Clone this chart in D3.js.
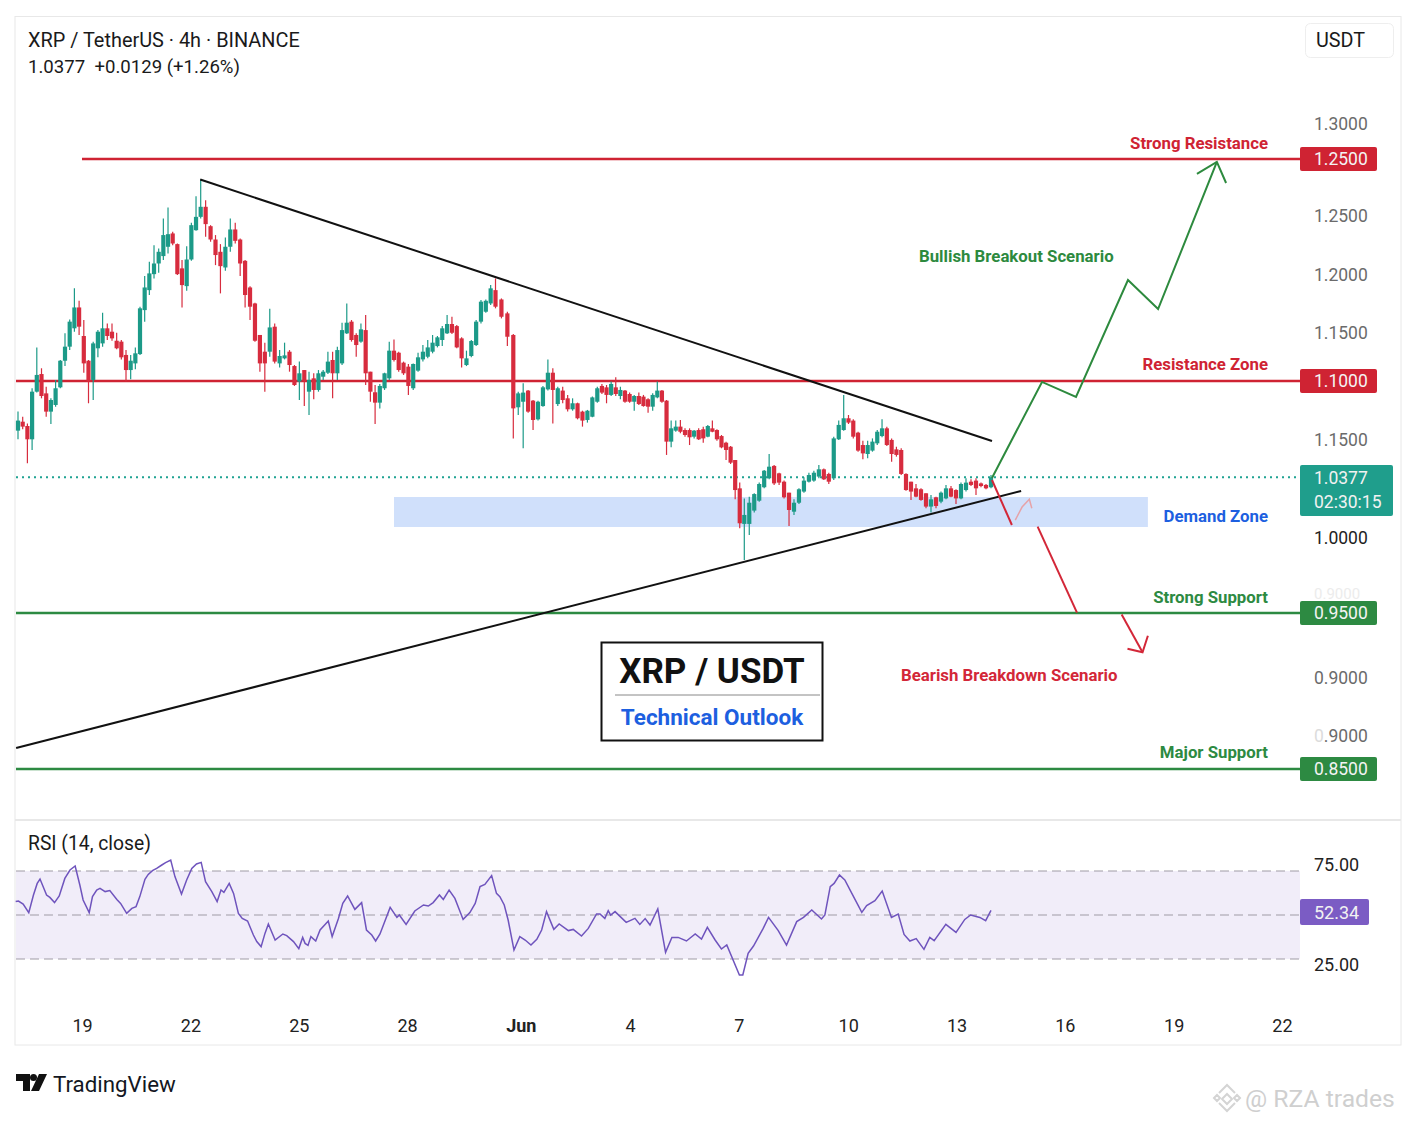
<!DOCTYPE html>
<html lang="en">
<head>
<meta charset="UTF-8">
<title>XRP / USDT Technical Outlook</title>
<style>
    html, body { margin: 0; padding: 0; background: #fff; }
    svg { display: block; font-family: Roboto, sans-serif; }
    .axis path, .axis line { display: none; }
</style>
<script src="https://cdn.jsdelivr.net/npm/d3@7"></script>
</head>
<body>
<script>
// 4h candles
var opens = [1.0679,1.0737,1.0709,1.0623,1.0931,1.1047,1.0920,1.0802,1.0845,1.0959,
1.1137,1.1232,1.1356,1.1497,1.1304,1.1137,1.1007,1.1221,1.1254,1.1356,
1.1333,1.1272,1.1266,1.1176,1.1074,1.1119,1.1182,1.1479,1.1614,1.1722,
1.1794,1.1844,1.1907,1.1997,1.1925,1.1761,1.1641,1.1821,1.2019,1.2109,
1.2177,1.2046,1.1956,1.1873,1.1767,1.1907,1.2024,1.1956,1.1812,1.1632,
1.1524,1.1311,1.1198,1.1198,1.1367,1.1119,1.1153,1.1198,1.1101,1.0996,
1.1074,1.0931,1.1018,1.0942,1.1029,1.1056,1.1142,1.1052,1.1119,1.1322,
1.1401,1.1311,1.1266,1.1344,1.1063,1.0927,1.0860,1.0953,1.1018,1.1205,
1.1191,1.1124,1.1097,1.0953,1.1070,1.1146,1.1164,1.1198,1.1236,1.1277,
1.1322,1.1385,1.1371,1.1288,1.1108,1.1169,1.1243,1.1401,1.1468,1.1524,
1.1614,1.1551,1.1457,1.1311,1.0830,1.0866,1.0938,1.0873,1.0752,1.0838,
1.0946,1.1056,1.0851,1.0938,1.0888,1.0817,1.0856,1.0802,1.0748,1.0769,
1.0866,1.0968,1.0959,1.0910,1.0959,1.0903,1.0938,1.0916,1.0866,1.0903,
1.0899,1.0882,1.0834,1.0894,1.0938,1.0873,1.0608,1.0679,1.0705,1.0683,
1.0683,1.0640,1.0683,1.0688,1.0640,1.0694,1.0683,1.0644,1.0601,1.0575,
1.0489,1.0306,1.0076,1.0076,1.0162,1.0226,1.0313,1.0371,1.0451,1.0403,
1.0349,1.0278,1.0155,1.0213,1.0285,1.0349,1.0356,1.0382,1.0429,1.0399,
1.0371,1.0623,1.0683,1.0759,1.0744,1.0666,1.0586,1.0528,1.0550,1.0597,
1.0644,1.0694,1.0619,1.0558,1.0554,1.0399,1.0349,1.0306,1.0300,1.0274,
1.0188,1.0248,1.0220,1.0241,1.0306,1.0295,1.0241,1.0295,1.0349,1.0356,
1.0338,1.0328,1.0313];
var highs = [1.0802,1.0769,1.0726,1.0953,1.1227,1.1086,1.0963,1.0888,1.1007,1.1142,
1.1322,1.1416,1.1626,1.1542,1.1412,1.1142,1.1266,1.1344,1.1461,1.1389,
1.1389,1.1326,1.1277,1.1209,1.1176,1.1227,1.1502,1.1709,1.1806,1.1918,
1.1896,1.2098,1.2172,1.2008,1.1929,1.1817,1.1911,1.2069,1.2249,1.2361,
1.2222,1.2053,1.1986,1.1925,1.1970,1.2098,1.2069,1.1963,1.1817,1.1641,
1.1529,1.1311,1.1259,1.1488,1.1389,1.1209,1.1259,1.1209,1.1108,1.1131,
1.1074,1.1063,1.1052,1.1074,1.1074,1.1198,1.1198,1.1232,1.1394,1.1524,
1.1412,1.1322,1.1389,1.1446,1.1063,1.0974,1.0981,1.1056,1.1266,1.1281,
1.1198,1.1131,1.1115,1.1119,1.1191,1.1243,1.1277,1.1311,1.1304,1.1371,
1.1446,1.1434,1.1378,1.1295,1.1205,1.1277,1.1412,1.1547,1.1551,1.1648,
1.1693,1.1558,1.1468,1.1317,1.0931,1.0985,1.0942,1.0877,1.0873,1.0968,
1.1146,1.1086,1.0963,1.0963,1.0910,1.0888,1.0860,1.0808,1.0813,1.0899,
1.0963,1.0981,1.0974,1.0996,1.1025,1.0963,1.0942,1.0925,1.0910,1.0925,
1.0910,1.0888,1.0920,1.0996,1.0942,1.0877,1.0744,1.0744,1.0748,1.0694,
1.0694,1.0683,1.0694,1.0705,1.0716,1.0744,1.0688,1.0651,1.0608,1.0580,
1.0489,1.0343,1.0241,1.0252,1.0274,1.0343,1.0425,1.0528,1.0457,1.0407,
1.0356,1.0278,1.0235,1.0306,1.0377,1.0407,1.0420,1.0457,1.0435,1.0407,
1.0640,1.0744,1.0910,1.0780,1.0752,1.0672,1.0614,1.0614,1.0629,1.0683,
1.0752,1.0705,1.0629,1.0575,1.0565,1.0403,1.0349,1.0334,1.0306,1.0274,
1.0263,1.0252,1.0285,1.0328,1.0321,1.0300,1.0343,1.0371,1.0364,1.0371,
1.0343,1.0334,1.0392];
var lows = [1.0623,1.0688,1.0468,1.0554,1.0925,1.0888,1.0769,1.0722,1.0834,1.0953,
1.1101,1.1209,1.1333,1.1311,1.1056,1.0856,1.0877,1.1160,1.1232,1.1277,
1.1272,1.1214,1.1146,1.0996,1.1011,1.1079,1.1176,1.1401,1.1581,1.1693,
1.1731,1.1817,1.1862,1.1918,1.1716,1.1497,1.1610,1.1812,1.2015,1.2098,
1.1974,1.1941,1.1783,1.1592,1.1745,1.1873,1.1929,1.1709,1.1497,1.1412,
1.1266,1.1063,1.0931,1.1164,1.1119,1.1092,1.1146,1.1063,1.0968,1.0877,
1.0838,1.0780,1.0882,1.0931,1.1007,1.1047,1.0888,1.1007,1.1108,1.1317,
1.1266,1.1164,1.1259,1.0974,1.0866,1.0722,1.0823,1.0942,1.1007,1.1131,
1.1063,1.1041,1.0910,1.0942,1.1063,1.1131,1.1153,1.1187,1.1227,1.1236,
1.1317,1.1317,1.1221,1.1092,1.1101,1.1160,1.1236,1.1389,1.1461,1.1513,
1.1491,1.1423,1.1236,1.0629,1.0780,1.0565,1.0795,1.0683,1.0744,1.0834,
1.0938,1.0726,1.0838,1.0856,1.0802,1.0808,1.0752,1.0705,1.0731,1.0765,
1.0860,1.0916,1.0856,1.0903,1.0903,1.0882,1.0860,1.0860,1.0808,1.0845,
1.0834,1.0795,1.0808,1.0888,1.0860,1.0522,1.0571,1.0672,1.0662,1.0640,
1.0586,1.0629,1.0619,1.0601,1.0636,1.0668,1.0614,1.0565,1.0489,1.0463,
1.0235,1.0048,0.9843,1.0004,1.0149,1.0220,1.0306,1.0364,1.0328,1.0328,
1.0241,1.0063,1.0134,1.0205,1.0278,1.0343,1.0349,1.0371,1.0360,1.0334,
1.0360,1.0619,1.0679,1.0722,1.0629,1.0543,1.0494,1.0500,1.0543,1.0586,
1.0636,1.0580,1.0478,1.0511,1.0392,1.0291,1.0231,1.0248,1.0226,1.0177,
1.0149,1.0177,1.0209,1.0235,1.0248,1.0205,1.0235,1.0285,1.0321,1.0263,
1.0313,1.0300,1.0306];
var closes = [1.0744,1.0705,1.0623,1.0931,1.1041,1.0903,1.0802,1.0877,1.0953,1.1137,
1.1232,1.1401,1.1497,1.1367,1.1119,1.0996,1.1254,1.1333,1.1356,1.1304,
1.1288,1.1221,1.1160,1.1074,1.1137,1.1187,1.1491,1.1632,1.1727,1.1794,
1.1873,1.1986,1.1992,1.1929,1.1722,1.1648,1.1821,1.2053,1.2109,1.2177,
1.2060,1.1956,1.1851,1.1776,1.1907,1.2024,1.1947,1.1794,1.1581,1.1502,
1.1272,1.1119,1.1119,1.1362,1.1131,1.1169,1.1173,1.1108,1.0974,1.1052,
1.0996,1.1007,1.0942,1.1052,1.1063,1.1131,1.1052,1.1209,1.1344,1.1394,
1.1277,1.1243,1.1349,1.1052,1.0931,1.0860,1.0968,1.1052,1.1205,1.1142,
1.1074,1.1052,1.0968,1.1115,1.1160,1.1198,1.1227,1.1259,1.1295,1.1356,
1.1385,1.1326,1.1227,1.1153,1.1153,1.1270,1.1401,1.1536,1.1542,1.1626,
1.1502,1.1434,1.1299,1.0823,1.0920,1.0925,1.0802,1.0748,1.0866,1.0959,
1.1056,1.0942,1.0953,1.0877,1.0817,1.0856,1.0759,1.0744,1.0808,1.0894,
1.0953,1.0925,1.0910,1.0981,1.0916,1.0942,1.0866,1.0866,1.0903,1.0851,
1.0838,1.0834,1.0910,1.0938,1.0866,1.0608,1.0694,1.0705,1.0672,1.0651,
1.0636,1.0679,1.0623,1.0629,1.0709,1.0672,1.0623,1.0571,1.0554,1.0472,
1.0295,1.0080,1.0134,1.0213,1.0269,1.0334,1.0420,1.0446,1.0338,1.0343,
1.0248,1.0166,1.0213,1.0300,1.0356,1.0392,1.0407,1.0429,1.0364,1.0349,
1.0629,1.0716,1.0759,1.0731,1.0640,1.0550,1.0532,1.0586,1.0608,1.0672,
1.0694,1.0586,1.0528,1.0522,1.0399,1.0295,1.0285,1.0252,1.0231,1.0188,
1.0235,1.0192,1.0278,1.0306,1.0252,1.0241,1.0334,1.0343,1.0328,1.0306,
1.0321,1.0306,1.0377];

// RSI: turning points of the line, at fractional candle positions
var rsiIndex = [-0.5,0.1,1.1,2.3,3.3,4.1,4.7,6.1,6.8,7.8,8.8,10,11.1,12.2,13.2,13.9,15.2,15.9,16.8,17.5,18.6,19.6,21.1,21.9,23.2,24.3,25.2,26,27.1,27.8,28.7,29.6,30.7,31.5,32.6,33.5,34.9,36,37.1,38.1,39.1,40,41.3,42.4,43.2,43.8,44.9,45.8,46.8,47.6,48.7,49.9,50.6,51.5,52.3,53,54.4,56,56.8,58.2,59.3,60.1,60.6,61.2,61.8,62.8,63.7,65.4,66.2,67.5,68.4,69.4,70.9,72.3,73.3,74.4,75.2,76.1,78.2,79.6,80.1,81.5,83.3,85.1,86.1,87.1,88.4,89.2,90.4,91.6,93.3,94.7,95.8,96.8,97.8,99.2,100.2,100.9,101.8,102.6,103.8,105,106.1,107.3,108.5,109.5,110.5,112,113.1,115,116,117.7,119.1,120.8,121.5,122.5,123.2,123.7,124.6,126.9,128.7,129.7,130.8,131.8,133.4,135,136.3,137.6,139.3,141.1,142.4,143.6,145.2,146.5,147.6,150.2,150.9,152,153.1,155.1,156.2,158.2,159.9,162,163.4,165.1,167.1,167.8,168.9,169.7,170.8,171.9,173.7,175.4,176.4,178.1,179.6,181.5,182.9,184.1,185.3,186.6,188.2,189.4,190.3,192.7,194.8,196.6,197.8,199.7,200.9,202];
var rsiValues = [56.7,57,55.5,51.2,60,65.8,68,60,58.8,56.2,59.5,68.3,72.5,74.5,65,57.5,51.2,59.2,62.5,63.3,61.7,62.2,57.8,55.8,50.8,53.3,54.2,59.2,67.8,70.3,72.2,73.3,75,76.2,77.5,69.2,60.5,67.5,73.3,75.5,76.3,66.7,61.7,56.7,62.5,61.3,65.8,60.8,50.8,48.3,47,40,36.7,34.2,40.8,45.5,37.5,40.5,39.7,36.7,33.2,38.8,35.8,34.8,39.2,37,42.5,47,39.2,48.3,55.8,59.5,52.8,56.2,42.5,40,37,40.5,53.8,48.8,50,45.3,52,55,54.5,56.2,60,57.8,62.5,58.3,47.8,51.2,55.8,64.2,65.3,69.7,60.8,59.2,55,47.5,32.5,39.2,37.5,35,37.8,42.5,51.7,42.8,45.5,42.2,42.8,39.5,43.3,50.5,50.5,48.3,52.2,50,51.7,46.3,48.3,45.3,48.2,45,53,31.3,38.8,38.8,37,40.5,38,43.8,37.5,33,35,20,20,30.8,34.5,43.3,48.8,42.2,35,46.7,48.8,52.5,48,50,64.2,65.8,70,67.5,59.2,51.3,54.7,57.2,62,48.8,50.5,40.3,37,38.2,32.8,38.8,37.2,45.3,41.3,47.8,50,48.8,47.2,52.34];
var rsiBands = [72, 50, 28];
var rsiTicks = [75, 25];

// axis labels, the picture prints some of them twice at odd heights
var dayTickIndex = [13.66,36.8,59.3,81.7,105.2,127.7,150.1,172.6,194.9,217.2,239.6,261.9];
var dayTickLabels = ["19","22","25","28","Jun","4","7","10","13","16","19","22"];
var priceTickAt = [1.2737,1.2115,1.1716,1.1324,1.0618,0.9985,0.9083,0.8711];
var priceTickLabels = ["1.3000","1.2500","1.2000","1.1500","1.1500","1.0000","0.9000","0.9000"];

// horizontal levels
var levelPrices = [1.25, 1.10, 0.95, 0.85];
var levelNames = ["Strong Resistance", "Resistance Zone", "Strong Support", "Major Support"];
var levelColors = ["#cf2333", "#cf2333", "#2d8a42", "#2d8a42"];
var lastPrice = 1.0377;
var lastRsi = 52.34;
var demandZone = {i0: 79, i1: 234.3, top: 1.0250, bottom: 1.0056};

// drawn lines, as candle position and price
var upperTrendIdx = [38.9, 202.2], upperTrendPrice = [1.2361, 1.0612];
var lowerTrendIdx = [-0.4, 208.2], lowerTrendPrice = [0.8635, 1.0289];
var bullIdx = [202.2, 212.5, 219.5, 230.2, 236.4, 248.5];
var bullPrice = [1.0373, 1.0994, 1.0897, 1.1682, 1.1486, 1.2480];
var bullHeadIdx = [244.4, 248.5, 250.4], bullHeadPrice = [1.2399, 1.2480, 1.2338];
var bearIdx = [[202.2, 206.3], [211.6, 219.7], [228.9, 233.2]];
var bearPrice = [[1.0360, 1.0069], [1.0058, 0.9502], [0.9490, 0.9248]];
var bearHeadIdx = [230.1, 233.2, 234.3], bearHeadPrice = [0.9271, 0.9248, 0.9354];
var bearFadeIdx = [207, 208.4, 209.9, 210.4], bearFadePrice = [1.0101, 1.0185, 1.0235, 1.0177];

var width = 1402, height = 1122;
var plotLeft = 16, plotRight = 1300;

var svg = d3.select("body").append("svg").attr("width", width).attr("height", height);

// scales, bent a little because the picture's axes are not even
var x = d3.scaleLinear().domain([0, 39, 100, 139, 202]).range([18, 200.7, 495.5, 685, 991]);
var xCandle = d3.scaleLinear()
    .domain([0, 20, 39, 60, 80, 100, 103, 120, 139, 152, 172, 185, 202])
    .range([18, 112, 200.7, 304.3, 398.7, 495.5, 513.3, 597.3, 685, 744.3, 843.7, 906, 991]);
var y = d3.scaleLinear().domain([1.25, 1.10, 0.95, 0.85]).range([159, 381, 613, 769]);
var yRsi = d3.scaleLinear().domain([75, 25]).range([865, 965]);

var line = d3.line().x(d => x(d[0])).y(d => y(d[1]));
function pts(a, b) { return a.map((v, i) => [v, b[i]]); }

// frame
var frameColor = "#e8e8e8";
svg.append("rect").attr("x", 15).attr("y", 16.5).attr("width", 1386).attr("height", 1028.5)
    .attr("fill", "none").attr("stroke", frameColor).attr("stroke-width", 1);
svg.append("line").attr("x1", 15).attr("x2", 1401).attr("y1", 820).attr("y2", 820)
    .attr("stroke", frameColor).attr("stroke-width", 2);

// demand zone goes under the candles
svg.append("rect")
    .attr("x", x(demandZone.i0)).attr("width", x(demandZone.i1) - x(demandZone.i0))
    .attr("y", y(demandZone.top)).attr("height", y(demandZone.bottom) - y(demandZone.top))
    .attr("fill", "#d0e0fb");

// levels
levelPrices.forEach(function(p, i) {
    svg.append("line")
        .attr("x1", i == 0 ? x(dayTickIndex[0]) : plotLeft).attr("x2", plotRight)
        .attr("y1", y(p)).attr("y2", y(p))
        .attr("stroke", levelColors[i]).attr("stroke-width", 2.4);
});

// last price line
svg.append("line").attr("x1", plotLeft).attr("x2", plotRight)
    .attr("y1", y(lastPrice)).attr("y2", y(lastPrice))
    .attr("stroke", "#1fa392").attr("stroke-width", 2).attr("stroke-dasharray", "2 4");

// candles
var up = "#1c9a88", down = "#d72c3e";
var candles = svg.append("g");
opens.forEach(function(o, i) {
    var c = closes[i];
    var col = c >= o ? up : down;
    candles.append("line")
        .attr("x1", xCandle(i)).attr("x2", xCandle(i))
        .attr("y1", y(highs[i])).attr("y2", y(lows[i]))
        .attr("stroke", col).attr("stroke-width", 1.2);
    candles.append("rect")
        .attr("x", xCandle(i) - 2.1).attr("width", 4.2)
        .attr("y", y(Math.max(o, c))).attr("height", Math.max(1, Math.abs(y(o) - y(c))))
        .attr("fill", col);
});

// trend lines
[[upperTrendIdx, upperTrendPrice], [lowerTrendIdx, lowerTrendPrice]].forEach(function(t) {
    svg.append("path").attr("d", line(pts(t[0], t[1])))
        .attr("fill", "none").attr("stroke", "#111").attr("stroke-width", 2);
});

// scenarios
var bullColor = "#2d8a3e", bearColor = "#d32738";
svg.append("path").attr("d", line(pts(bullIdx, bullPrice)))
    .attr("fill", "none").attr("stroke", bullColor).attr("stroke-width", 2).attr("stroke-linejoin", "miter");
svg.append("path").attr("d", line(pts(bullHeadIdx, bullHeadPrice)))
    .attr("fill", "none").attr("stroke", bullColor).attr("stroke-width", 2);
bearIdx.forEach(function(seg, i) {
    svg.append("path").attr("d", line(pts(seg, bearPrice[i])))
        .attr("fill", "none").attr("stroke", bearColor).attr("stroke-width", 2);
});
svg.append("path").attr("d", line(pts(bearHeadIdx, bearHeadPrice)))
    .attr("fill", "none").attr("stroke", bearColor).attr("stroke-width", 2);
svg.append("path").attr("d", line(pts(bearFadeIdx, bearFadePrice)))
    .attr("fill", "none").attr("stroke", "#e6a3a8").attr("stroke-width", 1.5);

// text on the chart
function label(txt, px, py, size, color, anchor, weight) {
    return svg.append("text").attr("x", px).attr("y", py)
        .attr("font-size", size).attr("fill", color)
        .attr("text-anchor", anchor || "start").attr("font-weight", weight || 400)
        .attr("dominant-baseline", "central").text(txt);
}
var blue = "#1d5fe0";
label(levelNames[0], 1268, 143, 16.8, levelColors[0], "end", 700);
label(levelNames[1], 1268, 364, 16.8, levelColors[1], "end", 700);
label(levelNames[2], 1268, 597, 16.8, levelColors[2], "end", 700);
label(levelNames[3], 1268, 752, 16.8, levelColors[3], "end", 700);
label("Demand Zone", 1268, 516, 16.8, blue, "end", 700);
label("Bullish Breakout Scenario", 919, 256, 16.8, bullColor, "start", 700);
label("Bearish Breakdown Scenario", 901, 675, 16.8, bearColor, "start", 700);

// title box
svg.append("rect").attr("x", 601.5).attr("y", 642.5).attr("width", 221).attr("height", 98)
    .attr("fill", "#fff").attr("stroke", "#111").attr("stroke-width", 2);
label("XRP / USDT", 712, 671, 35, "#111", "middle", 700);
svg.append("line").attr("x1", 615).attr("x2", 820).attr("y1", 695).attr("y2", 695)
    .attr("stroke", "#888").attr("stroke-width", 1);
label("Technical Outlook", 712, 717, 22.5, blue, "middle", 700);

// header
label("XRP / TetherUS \u00b7 4h \u00b7 BINANCE", 28, 40, 19.9, "#1a1a1a");
label("1.0377  +0.0129 (+1.26%)", 28, 67, 18.6, "#1a1a1a").style("white-space", "pre");
svg.append("rect").attr("x", 1305.5).attr("y", 23.5).attr("width", 88).attr("height", 34).attr("rx", 5)
    .attr("fill", "#fff").attr("stroke", "#eeeeee");
label("USDT", 1316, 40, 19.8, "#1a1a1a");

// price axis
var priceAxis = svg.append("g").attr("class", "axis").attr("transform", "translate(1314,0)")
    .call(d3.axisRight(y).tickValues(priceTickAt).tickSize(0).tickPadding(0)
        .tickFormat((d, i) => priceTickLabels[i]));
priceAxis.selectAll("text").attr("font-size", 17.5).attr("font-family", "Roboto, sans-serif")
    .attr("fill", (d, i) => i == 5 ? "#222" : "#6b6b6b");
// the last tick's first digit has nearly gone in the picture
var fadedTick = priceAxis.selectAll("text").filter((d, i) => i == priceTickLabels.length - 1);
var fadedText = fadedTick.text();
fadedTick.text("");
fadedTick.append("tspan").attr("fill", "#dcdcdc").text(fadedText.slice(0, 1));
fadedTick.append("tspan").text(fadedText.slice(1));
// ghost label half hidden behind the 0.9500 tag
label("0.9000", 1314, 594, 15, "#ececec");

// price tags
var tagHeight = 24;
levelPrices.forEach(function(p, i) {
    svg.append("rect").attr("x", plotRight).attr("width", 77).attr("y", y(p) - tagHeight / 2).attr("height", tagHeight)
        .attr("rx", 2).attr("fill", levelColors[i]);
    label(p.toFixed(4), 1314, y(p), 17.5, "#f4f4f4");
});
svg.append("rect").attr("x", plotRight).attr("width", 93).attr("y", 465).attr("height", 51).attr("rx", 2).attr("fill", "#1f9e8c");
label(lastPrice.toFixed(4), 1314, 478, 17.5, "#f2f2f2");
label("02:30:15", 1314, 502, 17.5, "#f2f2f2");

// RSI panel
label("RSI (14, close)", 28, 843, 19.3, "#1a1a1a");
svg.append("rect").attr("x", plotLeft).attr("width", plotRight - plotLeft)
    .attr("y", yRsi(rsiBands[0])).attr("height", yRsi(rsiBands[2]) - yRsi(rsiBands[0]))
    .attr("fill", "#f1edf9");
rsiBands.forEach(function(b) {
    svg.append("line").attr("x1", plotLeft).attr("x2", plotRight)
        .attr("y1", yRsi(b)).attr("y2", yRsi(b))
        .attr("stroke", "#a09ca6").attr("stroke-width", 1.2).attr("stroke-dasharray", "9 5");
});
svg.append("path")
    .attr("d", d3.line().x(d => x(d[0])).y(d => yRsi(d[1]))(pts(rsiIndex, rsiValues)))
    .attr("fill", "none").attr("stroke", "#6f54bd").attr("stroke-width", 1.5);
var rsiAxis = svg.append("g").attr("class", "axis").attr("transform", "translate(1314,0)")
    .call(d3.axisRight(yRsi).tickValues(rsiTicks).tickSize(0).tickPadding(0).tickFormat(d3.format(".2f")));
rsiAxis.selectAll("text").attr("font-size", 18).attr("font-family", "Roboto, sans-serif").attr("fill", "#222");
svg.append("rect").attr("x", plotRight).attr("width", 69).attr("y", 899).attr("height", 26).attr("rx", 2).attr("fill", "#7b5cc4");
label(lastRsi.toFixed(2), 1314, 912, 18, "#f2f2f2");

// date axis
var dayAxis = svg.append("g").attr("class", "axis").attr("transform", "translate(0,1019)")
    .call(d3.axisBottom(x).tickValues(dayTickIndex).tickSize(0).tickPadding(0)
        .tickFormat((d, i) => dayTickLabels[i]));
dayAxis.selectAll("text").attr("font-size", 18).attr("font-family", "Roboto, sans-serif").attr("fill", "#222")
    .attr("font-weight", (d, i) => dayTickLabels[i] == "Jun" ? 700 : 400);

// TradingView mark
svg.append("path").attr("d", "M16 1074H30V1091H23V1081H16Z M39 1074H47L39 1091H31Z").attr("fill", "#111");
svg.append("circle").attr("cx", 33.5).attr("cy", 1077.5).attr("r", 3.5).attr("fill", "#111");
label("TradingView", 53, 1084, 22.3, "#131722");

// watermark
var wm = svg.append("g").attr("transform", "translate(1227,1098)").attr("fill", "none").attr("stroke", "#d4d4d4").attr("stroke-width", 2);
wm.append("path").attr("d", "M-8 -5L0 -13L8 -5M-8 5L0 13L8 5M-5 1L0 -4L5 1L0 6Z");
wm.append("path").attr("d", "M-13 0L-10 -3L-7 0L-10 3Z M13 0L10 -3L7 0L10 3Z");
label("@ RZA trades", 1245, 1098, 24.7, "#cfcfcf");
</script>
</body>
</html>
